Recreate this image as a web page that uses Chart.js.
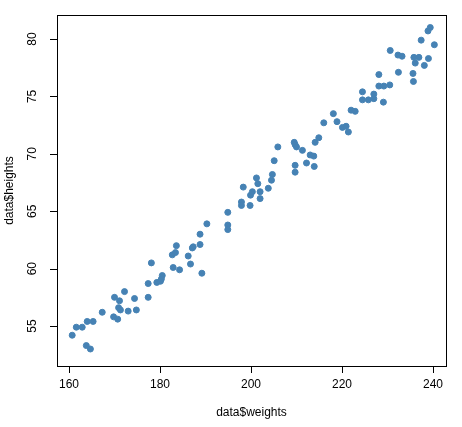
<!DOCTYPE html>
<html><head><meta charset="utf-8">
<script src="https://cdn.jsdelivr.net/npm/chart.js@4"></script>
<style>html,body{margin:0;padding:0;background:#fff}#w{width:462px;height:427px}</style>
</head><body><div id="w"><canvas id="c"></canvas></div>
<script>
const weights=[160.7,161.6,162.9,163.8,164.7,164,165.3,167.3,169.8,170.7,170,170.9,171.3,171.1,172.2,173,174.4,174.8,177.4,177.4,178.1,179.3,180.1,180.5,180.3,182.9,182.7,183.4,183.6,184.3,186.2,186.7,187.1,189.2,
187.3,188.8,188.8,190.3,194.9,194.9,194.9,197.9,197.9,198.3,199.8,199.9,200.3,201.2,201.5,202,202,203.8,204.5,204.7,205.1,205.9,209.5,209.7,210,209.7,209.7,211.3,212.2,213,213.8,213.9,214.1,214.9,216,218.1,218.9,220.1,220.9,221.4,222,222.9,224.5,224.5,225.8,227,227,228.1,228.1,229.1,229.2,230.5,230.6,232.3,233.2,232.4,235.6,235.7,235.8,236.1,236.9,237.4,238.1,239.0,238.9,239.4,240.3];
const heights=[54.2,54.9,54.9,53.3,53.0,55.4,55.4,56.2,55.8,55.6,57.5,56.6,56.4,57.2,58.0,56.3,57.4,56.4,57.5,58.7,60.5,58.8,58.9,59.4,59.1,60.1,61.2,61.4,62.0,59.9,61.1,60.4,61.8,59.6,
61.9,63.0,62.1,63.9,64.9,63.8,63.4,65.8,65.5,67.1,65.5,66.4,66.7,67.9,67.4,66.7,66.1,67.0,67.7,68.2,69.4,70.6,71.0,70.8,70.6,69.0,68.4,70.3,69.2,69.9,69.8,68.9,71.0,71.4,72.7,73.5,72.8,72.3,72.4,71.9,73.8,73.7,75.4,74.7,74.7,75.2,74.8,76.9,75.9,74.5,75.9,76.0,79.0,78.6,78.5,77.1,77.0,76.3,78.4,77.9,78.4,79.9,77.7,78.3,80.7,81.0,79.5];
const xTicks=[160,180,200,220,240];
const yTicks=[55,60,65,70,75,80];
const pts=weights.map((w,i)=>({x:w,y:heights[i]}));
const F='12px "Liberation Sans", Arial, sans-serif';
const rAxes={id:'rAxes',afterDraw(ch){
 const c=ch.ctx,a=ch.chartArea,xs=ch.scales.x,ys=ch.scales.y;
 c.save();c.strokeStyle='#000';c.lineWidth=1;c.fillStyle='#000';c.font=F;
 c.strokeRect(a.left+0.5,a.top+0.5,a.right-a.left,a.bottom-a.top);
 c.textAlign='center';c.textBaseline='top';
 const x0=xs.getPixelForValue(xTicks[0]),x1=xs.getPixelForValue(xTicks[xTicks.length-1]);
 c.beginPath();c.moveTo(x0,a.bottom+0.5);c.lineTo(x1,a.bottom+0.5);
 xTicks.forEach(t=>{const p=Math.round(xs.getPixelForValue(t))+0.5;c.moveTo(p,a.bottom);c.lineTo(p,a.bottom+7);});
 const y0=ys.getPixelForValue(yTicks[0]),y1=ys.getPixelForValue(yTicks[yTicks.length-1]);
 c.moveTo(a.left+0.5,y0);c.lineTo(a.left+0.5,y1);
 yTicks.forEach(t=>{const p=Math.round(ys.getPixelForValue(t))+0.5;c.moveTo(a.left,p);c.lineTo(a.left-7,p);});
 c.stroke();
 xTicks.forEach(t=>c.fillText(String(t),xs.getPixelForValue(t),a.bottom+13));
 c.fillText('data$weights',(a.left+a.right)/2,a.bottom+41);
 yTicks.forEach(t=>{c.save();c.translate(a.left-24,ys.getPixelForValue(t));c.rotate(-Math.PI/2);c.textBaseline='middle';c.fillText(String(t),0,0);c.restore();});
 c.save();c.translate(10,(a.top+a.bottom)/2);c.rotate(-Math.PI/2);c.textBaseline='middle';c.fillText('data$heights',0,0);c.restore();
 c.restore();}};
new Chart(document.getElementById('c'),{type:'scatter',
 data:{datasets:[{data:pts,backgroundColor:'#4682B4',borderColor:'#4682B4',pointRadius:3,pointHoverRadius:3}]},
 options:{responsive:true,maintainAspectRatio:false,animation:false,events:[],
  layout:{padding:{left:57,top:15,right:16,bottom:61}},
  plugins:{legend:{display:false},tooltip:{enabled:false}},
  scales:{x:{type:'linear',min:157.36,max:242.86,display:false},y:{type:'linear',min:51.52,max:82.09,display:false}}},
 plugins:[rAxes]});
</script></body></html>
